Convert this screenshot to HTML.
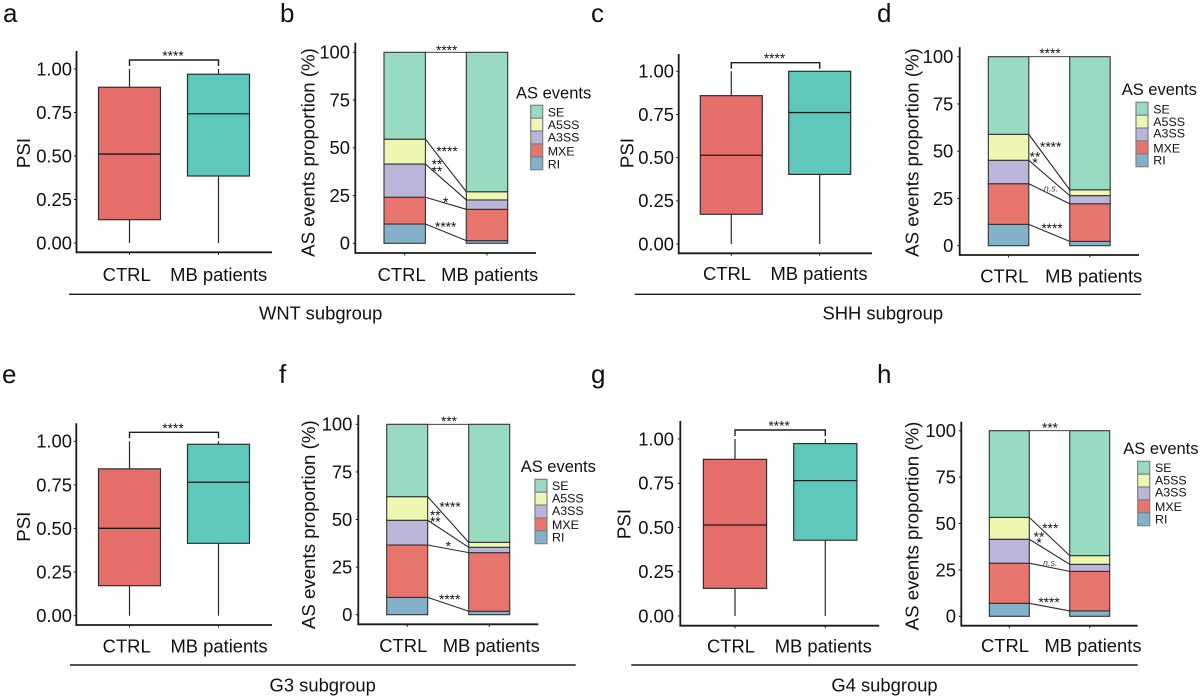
<!DOCTYPE html>
<html lang="en">
<head>
<meta charset="utf-8">
<title>AS events by medulloblastoma subgroup</title>
<style>
html,body{margin:0;padding:0;background:#fff;}
svg{display:block;font-family:"Liberation Sans",Arial,sans-serif;fill:#111;}
</style>
</head>
<body>
<svg id="figure" xmlns="http://www.w3.org/2000/svg" width="1200" height="698" viewBox="0 0 1200 698">
  <g font-size="26" fill="#111">
    <text x="3" y="22">a</text>
    <text x="280" y="22">b</text>
    <text x="591" y="22">c</text>
    <text x="877" y="22">d</text>
    <text x="2" y="383">e</text>
    <text x="279" y="383">f</text>
    <text x="591" y="383">g</text>
    <text x="877" y="383">h</text>
  </g>
  <g stroke="#1a1a1a" stroke-width="1.4">
    <line x1="69" y1="294.3" x2="575" y2="294.3"/>
    <line x1="634.7" y1="294.3" x2="1141" y2="294.3"/>
    <line x1="70" y1="665" x2="575.7" y2="665"/>
    <line x1="631.3" y1="665" x2="1137.7" y2="665"/>
  </g>
  <g font-size="18.4" text-anchor="middle" fill="#111">
    <text x="320.7" y="319.3">WNT subgroup</text>
    <text x="882.8" y="319.3">SHH subgroup</text>
    <text x="322.7" y="691.7">G3 subgroup</text>
    <text x="884.5" y="691.7">G4 subgroup</text>
  </g>
</svg>
<script>
// ---------- chart data ----------
const categories = ['CTRL', 'MB patients'];
const eventTypes = ['RI', 'MXE', 'A3SS', 'A5SS', 'SE'];
const legendOrder = ['SE', 'A5SS', 'A3SS', 'MXE', 'RI'];
const psiTicks = [0, 0.25, 0.5, 0.75, 1];
const psiTickLabels = ['0.00', '0.25', '0.50', '0.75', '1.00'];
const pctTicks = [0, 25, 50, 75, 100];
const pctTickLabels = ['0', '25', '50', '75', '100'];

// box stats: whisker low, q1, median, q3, whisker high
const wntPsiCtrl = [0, 0.134, 0.511, 0.895, 1];
const wntPsiMb = [0, 0.385, 0.743, 0.97, 1];
const shhPsiCtrl = [0, 0.172, 0.514, 0.859, 1];
const shhPsiMb = [0, 0.403, 0.761, 1, 1];
const g3PsiCtrl = [0, 0.172, 0.501, 0.842, 1];
const g3PsiMb = [0, 0.415, 0.765, 0.983, 1];
const g4PsiCtrl = [0, 0.156, 0.514, 0.885, 1];
const g4PsiMb = [0, 0.428, 0.765, 0.974, 1];

// stacked proportions in eventTypes order (bottom to top)
const wntEventsCtrl = [10.1, 14, 17.4, 13, 45.5];
const wntEventsMb = [1.4, 16.4, 4.9, 4.3, 73];
const shhEventsCtrl = [11.3, 21.5, 12.4, 13.7, 41.1];
const shhEventsMb = [2.3, 19.9, 4.3, 3.1, 70.4];
const g3EventsCtrl = [9.1, 27.5, 13, 12.4, 38];
const g3EventsMb = [1.8, 30.8, 2.8, 2.6, 62];
const g4EventsCtrl = [7, 21.6, 12.9, 11.8, 46.7];
const g4EventsMb = [2.9, 21.3, 3.8, 4.7, 67.3];

const wntSignif = ['****', '****', '**', '**', '*', '****'];
const shhSignif = ['****', '****', '**', '*', 'n.s.', '****'];
const g3Signif = ['***', '****', '**', '**', '*', '****'];
const g4Signif = ['***', '***', '**', '*', 'n.s.', '****'];

// ---------- styling and layout ----------
const boxColors = ['#E56E6A', '#5EC9BA'];
const eventColors = { SE: '#98DAC2', A5SS: '#EDF7B2', A3SS: '#BBB6D9', MXE: '#E7756D', RI: '#83B1C9' };
const INK = '#1a1a1a';
const TEXT = '#111';
const TICK_FS = 18.4;
const svg = document.getElementById('figure');

function mk(tag, attrs, parent, text) {
  const el = document.createElementNS('http://www.w3.org/2000/svg', tag);
  for (const k in attrs) el.setAttribute(k, attrs[k]);
  if (text !== undefined) el.textContent = text;
  parent.appendChild(el);
  return el;
}

function drawAxes(g, id, L, ticks, tickLabels, yScale, yTitle, titleBaseX, titleMidY, centers) {
  const yLine = mk('line', { x1: L.axisX, y1: L.axisTop, x2: L.axisX, y2: L.axisBottom + 0.9, stroke: INK, 'stroke-width': 1.8 }, g);
  
  
  const xLine = mk('line', { x1: L.axisX, y1: L.axisBottom, x2: L.axisRight, y2: L.axisBottom, stroke: INK, 'stroke-width': 1.8 }, g);
  
  
  ticks.forEach(function (t, i) {
    const y = yScale(t);
    const tick = mk('line', { x1: L.axisX - 2.5, y1: y, x2: L.axisX, y2: y, stroke: INK, 'stroke-width': 1 }, g);
    
    
    const lab = mk('text', { x: L.tickRight, y: y + 6.4, 'text-anchor': 'end', 'font-size': TICK_FS, fill: TEXT }, g, tickLabels[i]);
    
    
  });
  categories.forEach(function (c, i) {
    const tick = mk('line', { x1: centers[i], y1: L.axisBottom, x2: centers[i], y2: L.axisBottom + 2.5, stroke: INK, 'stroke-width': 1 }, g);
    
    
    const lab = mk('text', { x: L.labelX[i], y: L.labelY, 'text-anchor': 'middle', 'font-size': TICK_FS, fill: TEXT }, g, c);
    
    
  });
  const title = mk('text', { transform: 'translate(' + titleBaseX + ',' + titleMidY + ') rotate(-90)', 'text-anchor': 'middle', 'font-size': 18.7, fill: TEXT }, g, yTitle);
  
  
}

function drawBoxPanel(id, L, ctrl, mb) {
  const g = mk('g', {}, svg);
  
  
  const y = function (v) { return L.y0 + (L.y1 - L.y0) * v; };
  drawAxes(g, id, L, psiTicks, psiTickLabels, y, 'PSI', L.titleX, L.titleY, L.centers);
  [ctrl, mb].forEach(function (s, i) {
    const cx = L.centers[i];
    const whisker = mk('line', { x1: cx, y1: y(s[0]), x2: cx, y2: y(s[4]), stroke: '#2a2a2a', 'stroke-width': 1.2 }, g);
    
    
    const box = mk('rect', { x: cx - L.half, y: y(s[3]), width: L.half * 2, height: y(s[1]) - y(s[3]), fill: boxColors[i], stroke: '#2e2e2e', 'stroke-width': 1.2 }, g);
    
    
    const med = mk('line', { x1: cx - L.half, y1: y(s[2]), x2: cx + L.half, y2: y(s[2]), stroke: '#1c1c1c', 'stroke-width': 1.3 }, g);
    
    
  });
  const bTop = L.bracketY;
  const bracket = mk('path', {
    d: 'M' + L.centers[0] + ' ' + (bTop + 6) + 'V' + bTop + 'H' + L.centers[1] + 'V' + (bTop + 6),
    fill: 'none', stroke: '#1c1c1c', 'stroke-width': 1.4
  }, g);
  
  
  const stars = mk('text', { x: (L.centers[0] + L.centers[1]) / 2 - 1, y: bTop + 0.5, 'text-anchor': 'middle', 'font-size': 13.7, fill: '#111' }, g, '****');
  
  
}

function drawStackPanel(id, L, ctrl, mb, signif) {
  const g = mk('g', {}, svg);
  
  
  const y = function (v) { return L.y0 + (L.y100 - L.y0) * v / 100; };
  const centers = L.barX.map(function (x) { return x + L.barW / 2; });
  drawAxes(g, id, L, pctTicks, pctTickLabels, y, 'AS events proportion (%)', L.titleX, L.titleY, centers);

  const tops = [];
  [ctrl, mb].forEach(function (vals, i) {
    let acc = 0;
    const t = [];
    vals.forEach(function (v, k) {
      const seg = mk('rect', { x: L.barX[i], y: y(acc + v), width: L.barW, height: y(acc) - y(acc + v), fill: eventColors[eventTypes[k]], stroke: '#333', 'stroke-width': 1.1 }, g);
      
      
      acc += v;
      t.push(acc);
    });
    tops.push(t);
  });
  tops[0].forEach(function (t, k) {
    const link = mk('line', { x1: L.barX[0] + L.barW, y1: y(t), x2: L.barX[1], y2: y(tops[1][k]), stroke: '#2a2a2a', 'stroke-width': k === 4 ? 0.8 : 1.1 }, g);
    
    
  });
  signif.forEach(function (label, i) {
    const at = L.sigAt[i];
    const isNs = label === 'n.s.';
    const attrs = isNs
      ? { x: at[0], y: at[1] + 3, 'text-anchor': 'middle', 'font-size': 9, 'font-style': 'italic', fill: '#444' }
      : { x: at[0], y: at[1] + 6, 'text-anchor': 'middle', 'font-size': 13.7, fill: '#111' };
    const sig = mk('text', attrs, g, label);
    
    
  });

  const legend = mk('g', {}, g);
  
  
  const lt = mk('text', { x: L.legend.titleX, y: L.legend.titleY, 'font-size': 16.5, fill: TEXT }, legend, 'AS events');
  
  
  legendOrder.forEach(function (name, i) {
    const sw = mk('rect', { x: L.legend.swatchX, y: L.legend.swatchY + i * 12.88, width: 12, height: 12.88, fill: eventColors[name], stroke: '#808080', 'stroke-width': 1.2 }, legend);
    
    
    const tx = mk('text', { x: L.legend.labelX, y: L.legend.labelY[i], 'font-size': 12.4, fill: TEXT }, legend, name);
    
    
  });
}

drawBoxPanel('wnt-psi', {
  axisX: 76.5, axisTop: 51, axisBottom: 252.3, axisRight: 272, y1: 69, y0: 243,
  centers: [129.5, 218.5], half: 31, bracketY: 60, tickRight: 72,
  labelX: [126.7, 218.7], labelY: 281, titleX: 30, titleY: 153
}, wntPsiCtrl, wntPsiMb);

drawBoxPanel('shh-psi', {
  axisX: 678.7, axisTop: 54, axisBottom: 253.3, axisRight: 872, y1: 71.3, y0: 244,
  centers: [731.3, 819.7], half: 31, bracketY: 62.7, tickRight: 674,
  labelX: [727, 819], labelY: 280, titleX: 633.3, titleY: 153
}, shhPsiCtrl, shhPsiMb);

drawBoxPanel('g3-psi', {
  axisX: 76.3, axisTop: 423.3, axisBottom: 625, axisRight: 272, y1: 441.3, y0: 615.7,
  centers: [129.5, 218.5], half: 31, bracketY: 432.3, tickRight: 72,
  labelX: [126.7, 219], labelY: 652.3, titleX: 30, titleY: 526.7
}, g3PsiCtrl, g3PsiMb);

drawBoxPanel('g4-psi', {
  axisX: 680.3, axisTop: 421, axisBottom: 625.7, axisRight: 879.3, y1: 439, y0: 616,
  centers: [735, 825.3], half: 31.6, bracketY: 430, tickRight: 674,
  labelX: [731, 823.3], labelY: 652.3, titleX: 630.3, titleY: 524
}, g4PsiCtrl, g4PsiMb);

drawStackPanel('wnt-events', {
  axisX: 355.3, axisTop: 42.7, axisBottom: 253, axisRight: 536, y100: 52.3, y0: 243.3,
  barX: [384, 466.3], barW: 41.4, tickRight: 350,
  labelX: [401.7, 489.7], labelY: 281, titleX: 314.3, titleY: 152.5,
  sigAt: [[446.7, 49], [447, 150], [437, 163], [437, 170], [445.7, 201], [445.7, 225.7]],
  legend: { titleX: 516, titleY: 98.7, swatchX: 530.7, swatchY: 105.3, labelX: 547.7, labelY: [116.7, 129, 141.7, 155.7, 168.3] }
}, wntEventsCtrl, wntEventsMb, wntSignif);

drawStackPanel('shh-events', {
  axisX: 959.7, axisTop: 47.3, axisBottom: 255, axisRight: 1139, y100: 56.7, y0: 245.7,
  barX: [988.3, 1069.7], barW: 40.5, tickRight: 953.3,
  labelX: [1004.3, 1093.7], labelY: 282.7, titleX: 918.3, titleY: 152.5,
  sigAt: [[1050, 52], [1050.7, 145.7], [1035, 155.7], [1035, 161.3], [1051, 188.7], [1052, 227]],
  legend: { titleX: 1121.7, titleY: 95, swatchX: 1136, swatchY: 102.3, labelX: 1153.3, labelY: [113.3, 126, 137.7, 152.3, 164.7] }
}, shhEventsCtrl, shhEventsMb, shhSignif);

drawStackPanel('g3-events', {
  axisX: 358.3, axisTop: 415, axisBottom: 624.3, axisRight: 538.3, y100: 424.3, y0: 614.7,
  barX: [386.7, 468.7], barW: 41, tickRight: 352.3,
  labelX: [403.3, 491.3], labelY: 652, titleX: 315, titleY: 524.7,
  sigAt: [[449, 420], [450, 505.7], [435.3, 514], [435.3, 520.3], [448.3, 545], [449.7, 598]],
  legend: { titleX: 520.7, titleY: 472, swatchX: 535, swatchY: 479.3, labelX: 552, labelY: [490, 502.7, 515, 529, 541.7] }
}, g3EventsCtrl, g3EventsMb, g3Signif);

drawStackPanel('g4-events', {
  axisX: 961.3, axisTop: 421.7, axisBottom: 625.7, axisRight: 1137.7, y100: 430.7, y0: 616.3,
  barX: [989.3, 1069.7], barW: 40, tickRight: 956,
  labelX: [1005, 1093], labelY: 652, titleX: 918.3, titleY: 526,
  sigAt: [[1050, 426.7], [1050.3, 527], [1039, 535.7], [1039, 541.7], [1050.3, 563], [1049, 601]],
  legend: { titleX: 1123.3, titleY: 454, swatchX: 1137.7, swatchY: 461.3, labelX: 1155, labelY: [472, 484.7, 496.7, 511, 523.3] }
}, g4EventsCtrl, g4EventsMb, g4Signif);
</script>
</body>
</html>
